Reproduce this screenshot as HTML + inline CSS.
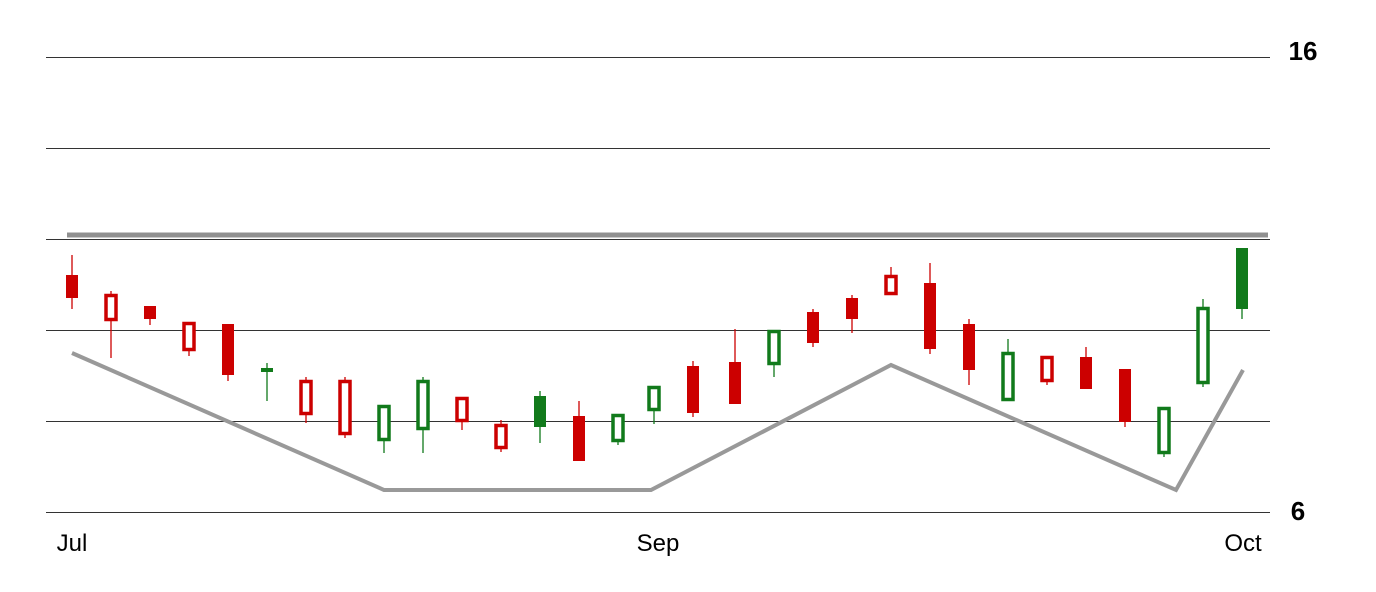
<!DOCTYPE html>
<html><head><style>body{margin:0;background:#fff}svg{display:block}text{font-family:"Liberation Sans",sans-serif}</style></head><body>
<svg width="1376" height="592" xmlns="http://www.w3.org/2000/svg">
<g stroke="#333" stroke-width="1">
<line x1="46" y1="57.5" x2="1270" y2="57.5"/><line x1="46" y1="148.5" x2="1270" y2="148.5"/>
<line x1="46" y1="239.5" x2="1270" y2="239.5"/><line x1="46" y1="330.5" x2="1270" y2="330.5"/>
<line x1="46" y1="421.5" x2="1270" y2="421.5"/><line x1="46" y1="512.5" x2="1270" y2="512.5"/>
</g>
<line x1="67" y1="235" x2="1268" y2="235" stroke="#909090" stroke-width="5"/>
<polyline points="72,353 384,490 651,490 891,365 1176,490 1243,370" fill="none" stroke="#999" stroke-width="4"/>
<g id="c"></g>
<text x="1303" y="60" font-size="26" font-weight="bold" text-anchor="middle">16</text>
<text x="1298" y="520" font-size="26" font-weight="bold" text-anchor="middle">6</text>
<text x="72" y="551" font-size="24" text-anchor="middle">Jul</text>
<text x="658" y="551" font-size="24" text-anchor="middle">Sep</text>
<text x="1243" y="551" font-size="24" text-anchor="middle">Oct</text>
</svg>
<script>
const d=[[72,275,298,255,309,'r',0],[111,294,321,291,358,'r',1],[150,306,319,306,325,'r',0],[189,322,351,322,356,'r',1],[228,324,375,324,381,'r',0],[267,368,372,363,401,'g',0],[306,380,415,377,423,'r',1],[345,380,435,377,438,'r',1],[384,405,441,405,453,'g',1],[423,380,430,377,453,'g',1],[462,397,422,397,430,'r',1],[501,424,449,420,452,'r',1],[540,396,427,391,443,'g',0],[579,416,461,401,461,'r',0],[618,414,442,414,445,'g',1],[654,386,411,386,424,'g',1],[693,366,413,361,417,'r',0],[735,362,404,329,404,'r',0],[774,330,365,330,377,'g',1],[813,312,343,309,347,'r',0],[852,298,319,295,333,'r',0],[891,275,295,267,295,'r',1],[930,283,349,263,354,'r',0],[969,324,370,319,385,'r',0],[1008,352,401,339,401,'g',1],[1047,356,382,356,385,'r',1],[1086,357,389,347,389,'r',0],[1125,369,422,369,427,'r',0],[1164,407,454,407,457,'g',1],[1203,307,384,299,387,'g',1],[1242,248,309,248,319,'g',0]];
let s='';for(const[x,t,b,wt,wb,c,h]of d){const col=c=='r'?'#cc0000':'#117a1b';s+=`<line x1="${x}" y1="${wt}" x2="${x}" y2="${wb}" stroke="${col}" stroke-width="1.3"/>`;
if(h)s+=`<rect x="${x-5}" y="${t+1.5}" width="10" height="${b-t-3}" fill="#fff" stroke="${col}" stroke-width="3.5"/>`;else s+=`<rect x="${x-6}" y="${t}" width="12" height="${b-t}" fill="${col}"/>`;}
document.getElementById('c').innerHTML=s;
</script>
</body></html>
